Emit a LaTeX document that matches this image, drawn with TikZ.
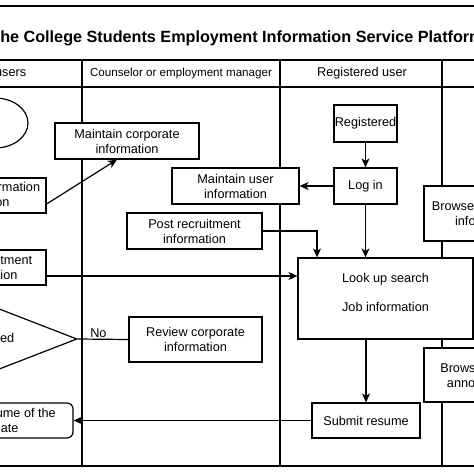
\documentclass[tikz,border=0pt]{standalone}
\usepackage{fontspec}
\setmainfont{Liberation Sans}
\usetikzlibrary{arrows.meta,shapes.geometric}

\begin{document}
\begin{tikzpicture}[x=1pt,y=-1pt,
  box/.style={draw,fill=white,line width=1.2pt,align=center,inner sep=0pt,
    font=\fontsize{12.7}{15}\selectfont},
  arr/.style={-{Stealth[length=9pt,width=8pt,inset=2.5pt]},line width=1.2pt},
  lane/.style={line width=1.5pt},
  head/.style={font=\fontsize{12.7}{15}\selectfont}]
\pgfmathsetmacro{\xa}{82}
\pgfmathsetmacro{\xb}{280}
\pgfmathsetmacro{\xc}{442}
\pgfmathsetmacro{\ytop}{60}
\pgfmathsetmacro{\yhead}{87}
\pgfmathsetmacro{\ybot}{466}
\useasboundingbox (0,0) rectangle (474,474);
\fill[white] (0,0) rectangle (474,474);
  % frame and lanes
  \draw[lane] (-100,6) -- (600,6);
  \draw[lane] (-100,\ytop) -- (600,\ytop);
  \draw[lane] (-100,\yhead) -- (600,\yhead);
  \draw[lane] (-100,\ybot) -- (600,\ybot);
  \draw[lane] (\xa,\ytop) -- (\xa,\ybot);
  \draw[lane] (\xb,\ytop) -- (\xb,\ybot);
  \draw[lane] (\xc,\ytop) -- (\xc,\ybot);
  \node[font=\bfseries\fontsize{16.2}{19}\selectfont] (title) at (237,38)
    {The College Students Employment Information Service Platform};
  \node[head] (hdent) at (-20,73.5) {Enterprise users};
  \node[head,font=\fontsize{11.6}{14}\selectfont] (hdcouns) at (181,73.5) {Counselor or employment manager};
  \node[head] (hdreg) at (362,73.5) {Registered user};
  % enterprise users
  \node[draw,fill=white,ellipse,line width=1.2pt,minimum width=66pt,minimum height=50pt] (start) at (-5,123) {};
  \node[box,minimum width=136pt,minimum height=35pt] (entreg) at (-22,195.5) {Enterprise information\\registration};
  \node[box,minimum width=120pt,minimum height=35pt] (postrec) at (-14,267.5) {Post recruitment\\information};
  \node[draw,fill=white,diamond,line width=1.2pt,minimum width=180pt,minimum height=70pt,inner sep=0pt,
    font=\fontsize{12.7}{15}\selectfont] (approved) at (-13,339) {Approved};
  \node[box,rounded corners=6pt,minimum width=164pt,minimum height=35pt] (viewres) at (-9,420.5) {View the resume of the\\candidate};
  % counselor or employment manager
  \node[box,minimum width=144pt,minimum height=36pt] (maintcorp) at (127,141) {Maintain corporate\\information};
  \node[box,minimum width=127pt,minimum height=36pt] (maintuser) at (235.5,186) {Maintain user\\information};
  \node[box,minimum width=135pt,minimum height=36pt] (postjob) at (194.5,231) {Post recruitment\\information};
  \node[box,minimum width=133pt,minimum height=45pt] (review) at (195.5,339.5) {Review corporate\\information};
  % registered user
  \node[box,minimum width=63pt,minimum height=37pt] (registered) at (365.5,123.5) {Registered};
  \node[box,minimum width=63pt,minimum height=36pt] (login) at (365.5,186) {Log in};
  \node[box,minimum width=175pt,minimum height=81pt] (lookup) at (385.5,298.5) {};
  \node[align=center,font=\fontsize{12.7}{15}\selectfont] (lookuptxt) at ([yshift=6pt]lookup.center)
    {Look up search\\[14pt]Job information};
  \node[box,minimum width=108pt,minimum height=35pt] (submit) at (366,420.5) {Submit resume};
  % visitor
  \node[box,minimum width=125pt,minimum height=55pt] (browsejob) at (486.5,213.5) {Browse recruitment\\information};
  \node[box,minimum width=130pt,minimum height=54pt] (browsenews) at (489,375) {Browse the latest\\announcement};
  % connectors
  \draw[arr] ([yshift=-8.5pt]entreg.east) -- ([xshift=-10pt]maintcorp.south);
  \coordinate (recout) at ([yshift=-8.5pt]postrec.east);
  \draw[arr] (recout) -- (recout -| lookup.west);
  \draw[arr] (postjob.east) -| ([xshift=-68.5pt]lookup.north);
  \draw[arr] (registered) -- (login);
  \draw[arr] (login) -- (maintuser);
  \draw[arr] (login.south) -- (login.south |- lookup.north);
  \draw[arr] (submit.north |- lookup.south) -- (submit.north);
  \draw[arr] (submit.west) -- (viewres.east);
  \draw[line width=1.2pt] (approved.east) -- (review.west)
    node[pos=0.41,above,inner sep=1pt,font=\fontsize{12.7}{15}\selectfont] (no) {No};
  \draw[arr] (approved.south) -- (approved.south |- viewres.north)
    node[midway,fill=white,inner sep=1pt,font=\fontsize{12.7}{15}\selectfont] (yes) {Yes};
\end{tikzpicture}
\end{document}
